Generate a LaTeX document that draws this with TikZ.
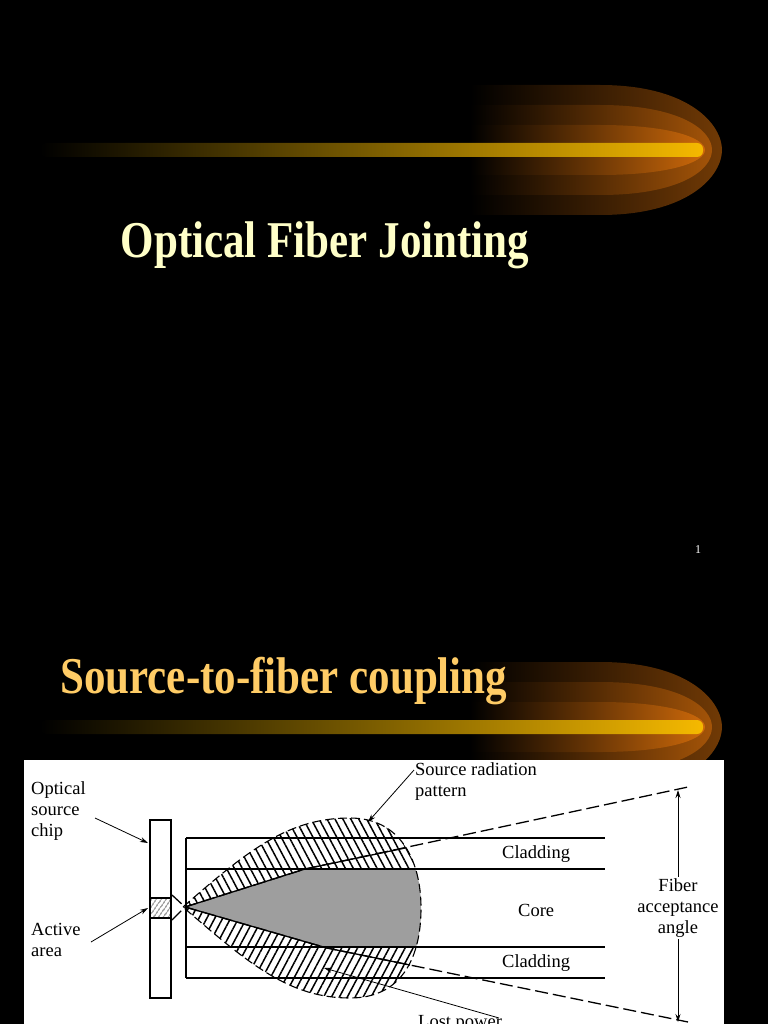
\documentclass[tikz,border=0pt]{standalone}
\usepackage{fontspec}
\setmainfont{Liberation Serif}
\usetikzlibrary{arrows.meta,patterns.meta}
\definecolor{titleA}{RGB}{255,255,200}
\definecolor{titleB}{RGB}{255,204,102}
\definecolor{gold}{RGB}{245,185,0}
\definecolor{glow}{RGB}{205,105,10}
\begin{document}
\begin{tikzpicture}[x=1pt,y=-1pt,
  lbl/.style={font=\fontsize{18.5}{21}\selectfont,align=left,inner sep=0pt,text=black},
  ptr/.style={-{Stealth[length=8pt,width=5pt]},line width=0.8pt},
  dsh/.style={line width=1.3pt,dash pattern=on 13pt off 5pt},
  fib/.style={line width=1.3pt}]
\useasboundingbox (0,0) rectangle (768,1024);
\fill[black] (0,0) rectangle (768,1024);
\foreach \yc in {150,727}{
  \shade[left color=black,right color=glow!55!black] (470,\yc-65) -- (600,\yc-65) .. controls (690,\yc-65) and (722,\yc-25) .. (722,\yc) .. controls (722,\yc+25) and (690,\yc+65) .. (600,\yc+65) -- (470,\yc+65) -- cycle;
  \shade[left color=black,right color=glow!80!black] (470,\yc-45) -- (600,\yc-45) .. controls (680,\yc-45) and (712,\yc-20) .. (712,\yc) .. controls (712,\yc+20) and (680,\yc+45) .. (600,\yc+45) -- (470,\yc+45) -- cycle;
  \shade[left color=black,right color=glow] (470,\yc-25) -- (600,\yc-25) .. controls (670,\yc-25) and (705,\yc-12) .. (705,\yc) .. controls (705,\yc+12) and (670,\yc+25) .. (600,\yc+25) -- (470,\yc+25) -- cycle;
  \shade[left color=black,right color=gold,rounded corners=6pt] (40,\yc-7) rectangle (703,\yc+7);
}
\node[text=titleA,font=\bfseries\fontsize{43}{45}\selectfont,inner sep=0pt] (t1) at (325,245) {\scalebox{1}[1.2]{Optical Fiber Jointing}};
\node[text=white,font=\fontsize{12}{13}\selectfont,inner sep=0pt] (pg) at (698,550) {1};
\node[text=titleB,font=\bfseries\fontsize{43}{45}\selectfont,inner sep=0pt,anchor=west] (t2) at (60,681) {\scalebox{1}[1.2]{Source-to-fiber coupling}};
\fill[white] (24,760) rectangle (724,1024);
\begin{scope}
\clip (24,760) rectangle (724,1024);
\def\pat{(183,907) .. controls (250,848) and (290,818) .. (350,818) .. controls (400,818) and (421,860) .. (421,908) .. controls (421,960) and (400,998) .. (350,998) .. controls (290,998) and (250,965) .. (183,907) -- cycle}
\begin{scope}
\clip (150,700) rectangle (700,907);
\fill[pattern={Lines[angle=-62,distance=7pt,line width=1.5pt]}] \pat;
\end{scope}
\begin{scope}
\clip (150,907) rectangle (700,1100);
\fill[pattern={Lines[angle=62,distance=7pt,line width=1.5pt]}] \pat;
\end{scope}
\begin{scope}
\clip (185,907) -- (305,869) -- (688,787) -- (688,1022) -- (327,948) -- cycle;
\clip (150,869) rectangle (700,947);
\fill[white] \pat;
\fill[black!38] \pat;
\end{scope}
\draw[dsh,line width=1.1pt,dash pattern=on 9pt off 4pt] \pat;
\draw[fib] (186,838) -- (605,838);
\draw[fib] (186,869) -- (605,869);
\draw[fib] (186,947) -- (605,947);
\draw[fib] (186,978) -- (605,978);
\draw[fib] (186,838) -- (186,978);
\node[draw,fib,fill=white,minimum width=21pt,minimum height=178pt,inner sep=0pt] (chip) at (160.5,909) {};
\node[draw,fib,pattern={Lines[angle=55,distance=4pt,line width=0.8pt]},minimum width=21pt,minimum height=20pt,inner sep=0pt] (act) at (160.5,908) {};
\coordinate (apex) at (185,907);
\coordinate (ut) at (688,787);
\coordinate (lt) at (688,1022);
\draw[dsh] (172,920) -- (apex) -- (305,869) -- (ut);
\draw[dsh] (172,895) -- (apex) -- (327,948) -- (lt);
\draw[fib] (apex) -- (305,869) -- (405,848);
\draw[fib] (apex) -- (327,948) -- (410,965);
\node[lbl,anchor=west] (lc1) at (502,854) {Cladding};
\node[lbl,anchor=west] (lco) at (518,910) {Core};
\node[lbl,anchor=west] (lc2) at (502,963) {Cladding};
\draw[line width=0.9pt,{Stealth[length=8pt,width=5pt]}-{Stealth[length=8pt,width=5pt]}] (678,790) -- (678,1022);
\node[lbl,fill=white,align=center,inner sep=2pt] (acc) at (678,908) {Fiber\\acceptance\\angle};
\node[lbl,anchor=north west] (osc) at (31,781) {Optical\\source\\chip};
\draw[ptr] (95,818) -- (148,843);
\node[lbl,anchor=north west] (aa) at (31,923) {Active\\area};
\draw[ptr] (91,942) -- (148,908);
\node[lbl,anchor=north west] (srp) at (415,762) {Source radiation\\pattern};
\draw[ptr] (414,770) -- (368,822);
\node[lbl,anchor=north west] (lp) at (418,1015) {Lost power};
\draw[ptr] (499,1018) -- (324,968);
\end{scope}
\end{tikzpicture}
\end{document}
